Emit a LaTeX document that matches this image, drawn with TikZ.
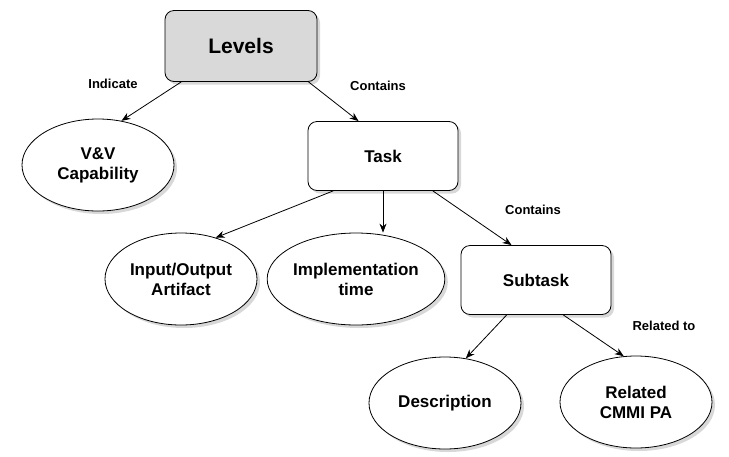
\documentclass[tikz,border=0pt]{standalone}
\usepackage{fontspec}
\setmainfont{Liberation Sans}
\usetikzlibrary{shapes.geometric,shadows,arrows.meta}
\begin{document}
\begin{tikzpicture}[x=1pt,y=-1pt,
  box/.style={draw,thick,rounded corners=9pt,fill=white,minimum width=150pt,minimum height=69pt,font=\bfseries\fontsize{17}{19}\selectfont,drop shadow={shadow xshift=3pt,shadow yshift=-3pt,fill=gray!60}},
  oval/.style={draw,thick,ellipse,fill=white,minimum width=152pt,minimum height=92pt,inner sep=0pt,align=center,font=\bfseries\fontsize{17}{20}\selectfont,drop shadow={shadow xshift=3pt,shadow yshift=-3pt,fill=gray!60}},
  arr/.style={thick,-{Stealth[length=9pt,width=7pt]}},
  lbl/.style={font=\bfseries\fontsize{13}{15}\selectfont}]
\useasboundingbox (0,0) rectangle (729,456);
\node[box,fill=gray!30,minimum width=152pt,minimum height=71pt,font=\bfseries\fontsize{21}{24}\selectfont] (lev) at (241,46) {Levels};
\node[oval] (vv) at (98,165) {V\&V\\Capability};
\node[box] (task) at (383,156) {Task};
\node[oval] (io) at (181,279) {Input/Output\\Artifact};
\node[oval,minimum width=170pt] (impl) at (356,279) {Implementation\\time};
\node[box] (sub) at (536,280) {Subtask};
\node[oval] (desc) at (445,403) {Description};
\node[oval] (cmmi) at (636,402) {Related\\CMMI PA};
\draw[arr] (lev.211) -- (vv.62);
\draw[arr] (lev.-28) -- (task.125);
\draw[arr] (task.-145) -- (io.50);
\draw[arr] (task.-90) -- (impl.north -| task.south);
\draw[arr] (task.-35) -- (sub.125);
\draw[arr] (sub.-130) -- (desc.65);
\draw[arr] (sub.-52) -- (cmmi.105);
\node[lbl] (l1) at (113,84) {Indicate};
\node[lbl] (l2) at (378,86) {Contains};
\node[lbl] (l3) at (533,210) {Contains};
\node[lbl] (l4) at (664,326) {Related to};
\end{tikzpicture}
\end{document}
